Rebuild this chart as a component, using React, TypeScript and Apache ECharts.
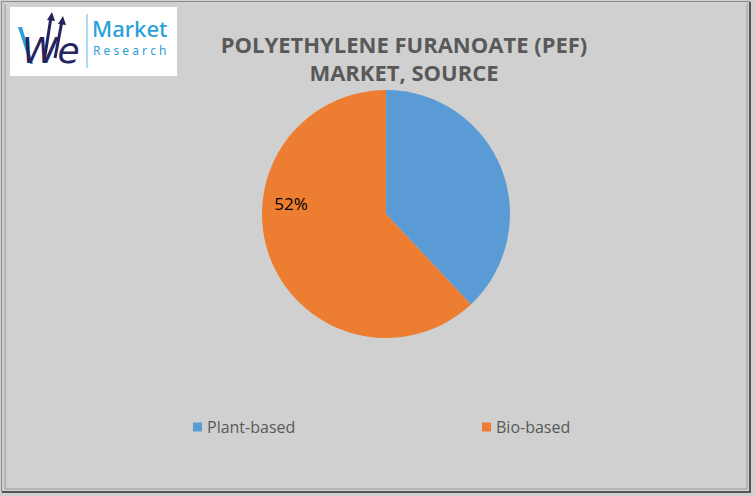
import React, { useEffect, useRef } from "react";
import * as echarts from "echarts";

const titleLines = ["POLYETHYLENE FURANOATE (PEF)", "MARKET, SOURCE"];
const categories = ["Plant-based", "Bio-based"];
const values = [38, 62];
const sliceLabels = ["", "52%"];
const colors = ["#5b9bd5", "#ed7d31"];

export default function App() {
  const ref = useRef<HTMLDivElement>(null);
  useEffect(() => {
    document.body.style.margin = "0";
    const chart = echarts.init(ref.current!, null, { renderer: "svg" });
    const legendText = { fontFamily: "Open Sans", fontSize: 16, color: "#595959" };
    chart.setOption({
      animation: false,
      backgroundColor: "#d0d0d0",
      title: {
        text: titleLines.join("\n"),
        left: 399,
        top: 25,
        textAlign: "center",
        textStyle: {
          fontFamily: "Open Sans",
          fontWeight: "bold",
          fontSize: 22,
          color: "#595959",
          lineHeight: 28,
        },
      },
      legend: [
        {
          data: [categories[0]],
          left: 188,
          top: 414,
          itemWidth: 9,
          itemHeight: 9,
          itemGap: 4,
          icon: "rect",
          textStyle: legendText,
        },
        {
          data: [categories[1]],
          left: 477,
          top: 414,
          itemWidth: 9,
          itemHeight: 9,
          icon: "rect",
          textStyle: legendText,
        },
      ],
      graphic: [
        {
          type: "rect",
          shape: { x: 1.5, y: 1.5, width: 748, height: 490 },
          style: { fill: "none", stroke: "#8a8a8a", lineWidth: 1 },
          silent: true,
        },
        {
          type: "polyline",
          shape: { points: [[750, 2], [750, 492], [2, 492]] },
          style: { fill: "none", stroke: "#555", lineWidth: 2 },
          silent: true,
        },
        {
          type: "polyline",
          shape: { points: [[5, 4], [5, 489], [747, 489], [747, 4]] },
          style: { fill: "none", stroke: "#9a9a9a", lineWidth: 1 },
          silent: true,
        },
        {
          type: "rect",
          shape: { x: 10, y: 7, width: 167, height: 69 },
          style: { fill: "#ffffff" },
          silent: true,
        },
        {
          type: "polygon",
          shape: { points: [[18, 27], [22, 27], [33, 64], [30, 64]] },
          style: { fill: "#2a9fd8" },
          silent: true,
        },
        {
          type: "text",
          x: 22,
          y: 32,
          style: {
            text: "We",
            fontFamily: "DejaVu Sans",
            fontSize: 36,
            fill: "#24245e",
            fontStyle: "italic",
            letterSpacing: -6,
          },
          silent: true,
        },
        {
          type: "polyline",
          shape: { points: [[44, 62], [51, 17]] },
          style: { stroke: "#24245e", lineWidth: 3 },
          silent: true,
        },
        {
          type: "polygon",
          shape: { points: [[47, 20], [52, 12], [55, 21]] },
          style: { fill: "#24245e" },
          silent: true,
        },
        {
          type: "polyline",
          shape: { points: [[55, 58], [62, 21]] },
          style: { stroke: "#24245e", lineWidth: 3 },
          silent: true,
        },
        {
          type: "polygon",
          shape: { points: [[58, 24], [63, 16], [66, 25]] },
          style: { fill: "#24245e" },
          silent: true,
        },
        {
          type: "line",
          shape: { x1: 87, y1: 14, x2: 87, y2: 68 },
          style: { stroke: "#5bbbe8", lineWidth: 1 },
          silent: true,
        },
        {
          type: "text",
          x: 92,
          y: 17,
          style: {
            text: "Market",
            fontFamily: "Noto Sans",
            fontWeight: 500,
            fontSize: 22,
            fill: "#2a9fd8",
          },
          silent: true,
        },
        {
          type: "text",
          x: 93,
          y: 44,
          style: {
            text: "R e s e a r c h",
            fontFamily: "Noto Sans",
            fontSize: 12,
            fill: "#2a9fd8",
          },
          silent: true,
        },
      ],
      series: [
        {
          type: "pie",
          center: [386, 214],
          radius: 124,
          startAngle: 90,
          clockwise: true,
          data: categories.map((c, i) => ({
            name: c,
            value: values[i],
            itemStyle: { color: colors[i] },
          })),
          label: {
            show: true,
            position: "inside",
            formatter: (p: any) => sliceLabels[p.dataIndex],
            fontFamily: "Open Sans",
            fontSize: 17,
            color: "#000",
          },
          labelLayout: (p: any) =>
            p.dataIndex === 1 ? { x: 291, y: 203, align: "center", verticalAlign: "middle" } : {},
          labelLine: { show: false },
          emphasis: { disabled: true },
        },
      ],
    });
    return () => chart.dispose();
  }, []);
  return <div ref={ref} style={{ width: 755, height: 496 }} />;
}
